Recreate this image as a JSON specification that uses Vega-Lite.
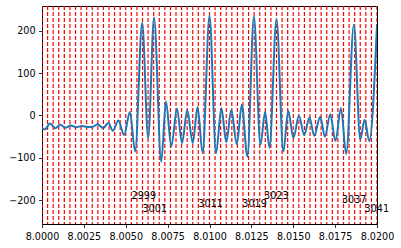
{
  "$schema": "https://vega.github.io/schema/vega-lite/v6.json",
  "width": 335,
  "height": 218,
  "autosize": {"type": "none"},
  "padding": {"left": 42, "top": 6, "right": 24, "bottom": 24},
  "background": "white",
  "config": {
    "view": {"stroke": "black", "strokeWidth": 1},
    "axis": {
      "grid": false,
      "domain": false,
      "tickColor": "black",
      "tickSize": 3.5,
      "tickWidth": 0.8,
      "labelFont": "DejaVu Sans",
      "labelFontSize": 9.6,
      "labelColor": "black",
      "labelPadding": 3.5,
      "labelOverlap": false,
      "labelFlush": false,
      "labelBound": false,
      "title": null
    }
  },
  "datasets": {
    "signal": [
      {"t": 8.00000, "v": -30},
      {"t": 8.00016, "v": -33},
      {"t": 8.00049, "v": -19},
      {"t": 8.00079, "v": -30},
      {"t": 8.00109, "v": -22},
      {"t": 8.00139, "v": -29},
      {"t": 8.00172, "v": -24},
      {"t": 8.00205, "v": -28},
      {"t": 8.00237, "v": -25},
      {"t": 8.00273, "v": -27},
      {"t": 8.00303, "v": -26.5},
      {"t": 8.00333, "v": -21},
      {"t": 8.00365, "v": -30},
      {"t": 8.00396, "v": -18},
      {"t": 8.00423, "v": -36},
      {"t": 8.00456, "v": -12},
      {"t": 8.00490, "v": -46},
      {"t": 8.00525, "v": 8},
      {"t": 8.00556, "v": -85},
      {"t": 8.00598, "v": 218},
      {"t": 8.00634, "v": -53},
      {"t": 8.00669, "v": 231},
      {"t": 8.00712, "v": -109},
      {"t": 8.00740, "v": 33},
      {"t": 8.00772, "v": -73},
      {"t": 8.00806, "v": 16},
      {"t": 8.00836, "v": -65},
      {"t": 8.00867, "v": 12},
      {"t": 8.00900, "v": -65},
      {"t": 8.00929, "v": 19},
      {"t": 8.00959, "v": -89},
      {"t": 8.01000, "v": 235},
      {"t": 8.01039, "v": -89},
      {"t": 8.01071, "v": 17},
      {"t": 8.01100, "v": -63},
      {"t": 8.01130, "v": 13},
      {"t": 8.01163, "v": -68},
      {"t": 8.01193, "v": 25},
      {"t": 8.01226, "v": -97},
      {"t": 8.01265, "v": 233},
      {"t": 8.01304, "v": -69},
      {"t": 8.01332, "v": 8},
      {"t": 8.01358, "v": -76},
      {"t": 8.01400, "v": 227},
      {"t": 8.01441, "v": -85},
      {"t": 8.01470, "v": 11},
      {"t": 8.01501, "v": -53},
      {"t": 8.01534, "v": -1},
      {"t": 8.01565, "v": -46},
      {"t": 8.01597, "v": -5},
      {"t": 8.01625, "v": -48},
      {"t": 8.01661, "v": -3},
      {"t": 8.01689, "v": -50},
      {"t": 8.01721, "v": 3},
      {"t": 8.01752, "v": -60},
      {"t": 8.01785, "v": 17},
      {"t": 8.01816, "v": -91},
      {"t": 8.01862, "v": 214},
      {"t": 8.01900, "v": -57},
      {"t": 8.01926, "v": -10},
      {"t": 8.01954, "v": -61},
      {"t": 8.02000, "v": 214}
    ],
    "marks": [
      {"t": 8.000000}, {"t": 8.000333}, {"t": 8.000667}, {"t": 8.001000}, {"t": 8.001333},
      {"t": 8.001667}, {"t": 8.002000}, {"t": 8.002333}, {"t": 8.002667}, {"t": 8.003000},
      {"t": 8.003333}, {"t": 8.003667}, {"t": 8.004000}, {"t": 8.004333}, {"t": 8.004667},
      {"t": 8.005000}, {"t": 8.005333}, {"t": 8.005667}, {"t": 8.006000}, {"t": 8.006333},
      {"t": 8.006667}, {"t": 8.007000}, {"t": 8.007333}, {"t": 8.007667}, {"t": 8.008000},
      {"t": 8.008333}, {"t": 8.008667}, {"t": 8.009000}, {"t": 8.009333}, {"t": 8.009667},
      {"t": 8.010000}, {"t": 8.010333}, {"t": 8.010667}, {"t": 8.011000}, {"t": 8.011333},
      {"t": 8.011667}, {"t": 8.012000}, {"t": 8.012333}, {"t": 8.012667}, {"t": 8.013000},
      {"t": 8.013333}, {"t": 8.013667}, {"t": 8.014000}, {"t": 8.014333}, {"t": 8.014667},
      {"t": 8.015000}, {"t": 8.015333}, {"t": 8.015667}, {"t": 8.016000}, {"t": 8.016333},
      {"t": 8.016667}, {"t": 8.017000}, {"t": 8.017333}, {"t": 8.017667}, {"t": 8.018000},
      {"t": 8.018333}, {"t": 8.018667}, {"t": 8.019000}, {"t": 8.019333}, {"t": 8.019667},
      {"t": 8.020000}
    ],
    "labels": [
      {"t": 8.00535, "v": -196, "label": "2999"},
      {"t": 8.00600, "v": -227, "label": "3001"},
      {"t": 8.00933, "v": -216, "label": "3011"},
      {"t": 8.01196, "v": -216, "label": "3019"},
      {"t": 8.01326, "v": -196, "label": "3023"},
      {"t": 8.01791, "v": -206, "label": "3037"},
      {"t": 8.01926, "v": -227, "label": "3041"}
    ]
  },
  "layer": [
    {
      "data": {"name": "marks"},
      "mark": {"type": "rule", "color": "red", "strokeWidth": 1.2, "strokeDash": [4, 2], "clip": true},
      "encoding": {
        "x": {
          "field": "t", "type": "quantitative",
          "scale": {"domain": [8.0, 8.02], "nice": false, "zero": false},
          "axis": {"values": [8.0, 8.0025, 8.005, 8.0075, 8.01, 8.0125, 8.015, 8.0175, 8.02], "format": ".4f"}
        }
      }
    },
    {
      "data": {"name": "signal"},
      "mark": {"type": "line", "interpolate": "monotone", "color": "#1f77b4", "strokeWidth": 2, "clip": true},
      "encoding": {
        "x": {"field": "t", "type": "quantitative"},
        "y": {
          "field": "v", "type": "quantitative",
          "scale": {"domain": [-256, 258], "nice": false, "zero": false},
          "axis": {"values": [-200, -100, 0, 100, 200], "format": "d"}
        }
      }
    },
    {
      "data": {"name": "labels"},
      "mark": {"type": "text", "align": "left", "baseline": "alphabetic", "font": "DejaVu Sans", "fontSize": 9.6, "color": "black"},
      "encoding": {
        "x": {"field": "t", "type": "quantitative"},
        "y": {"field": "v", "type": "quantitative"},
        "text": {"field": "label"}
      }
    }
  ]
}
